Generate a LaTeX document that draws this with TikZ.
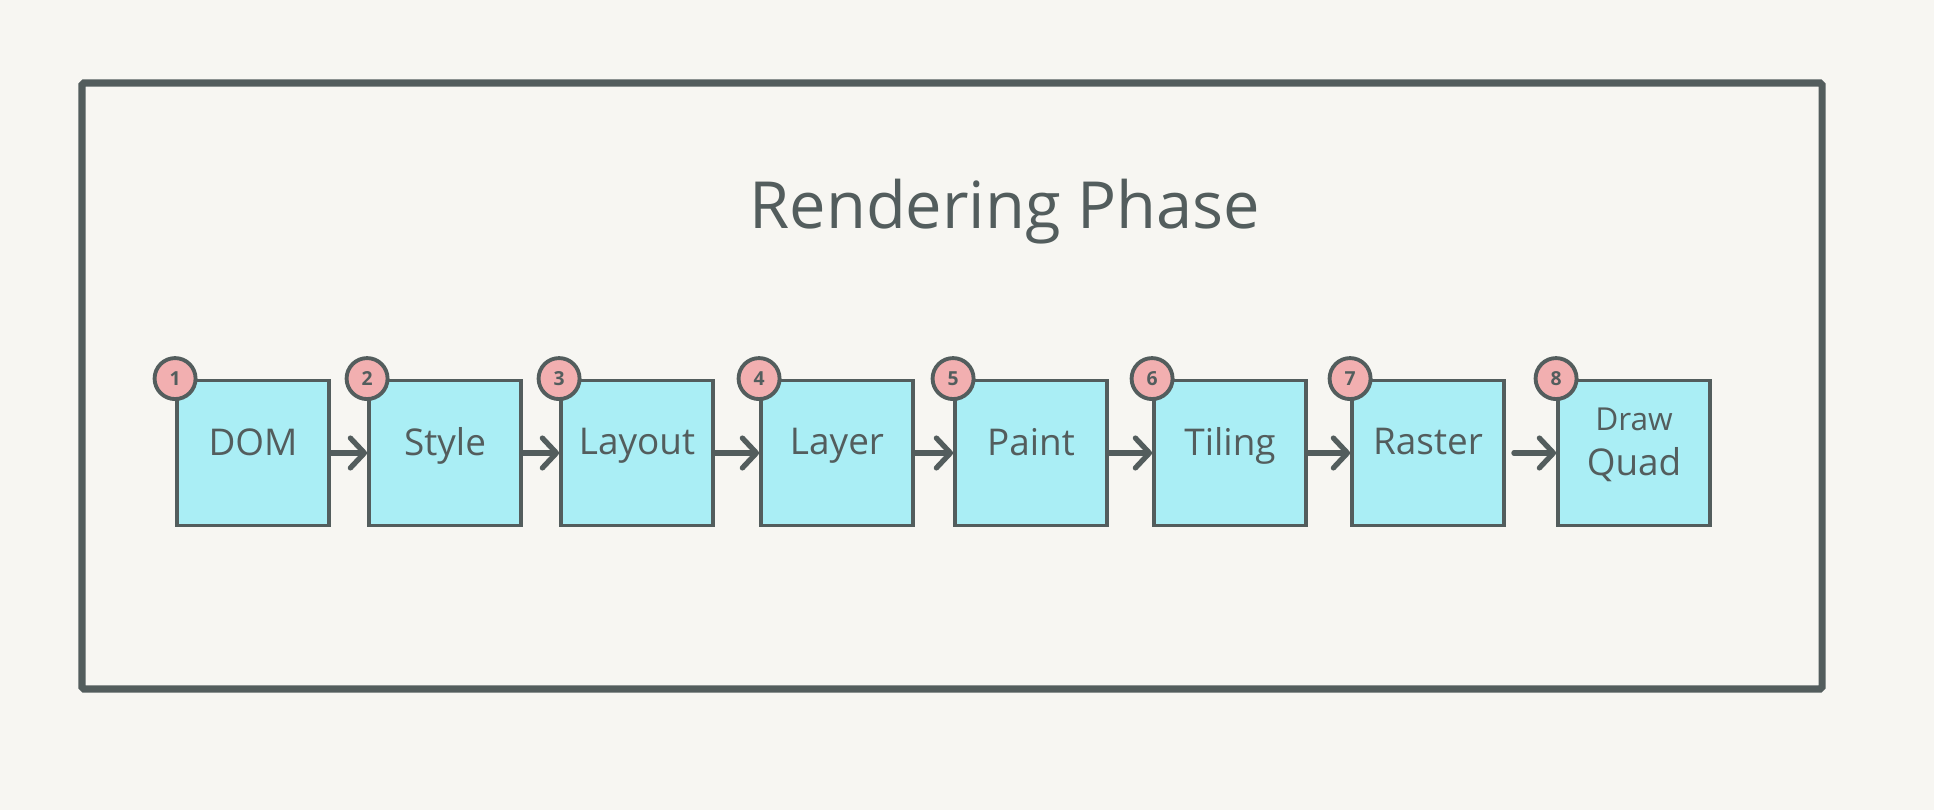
\documentclass[tikz,border=0pt]{standalone}
\usepackage{fontspec}
\setmainfont{Open Sans}
\usetikzlibrary{arrows.meta}

\definecolor{ink}{HTML}{535D5D}
\definecolor{paper}{HTML}{F7F6F2}
\definecolor{boxfill}{HTML}{AAEEF5}
\definecolor{badgefill}{HTML}{F2AFB0}

\tikzset{
  stage/.style={draw=ink, line width=2.2pt, fill=boxfill, minimum width=3.04cm,
    minimum height=2.9cm, inner sep=0pt, align=center, text=ink, text depth=0.45cm,
    font=\fontsize{21}{26}\selectfont},
  badge/.style={circle, draw=ink, line width=2.2pt, fill=badgefill, minimum size=0.82cm,
    inner sep=0pt, text=ink, font=\fontsize{11}{12}\selectfont\bfseries},
  flow/.style={draw=ink, line width=3pt, line cap=round,
    -{Straight Barb[length=8pt,width=17pt,round]}},
}

\begin{document}
\begin{tikzpicture}[x=0.02cm,y=-0.02cm]
            \fill[paper] (0,0) rectangle (1934,810);
            \useasboundingbox (0,0) rectangle (1934,810);
            \draw[ink, line width=4pt, rounded corners=1pt] (82,83) rectangle (1822,689);
            \node[text=ink, font=\fontsize{37}{44}\selectfont] (title) at (1005,212) {Rendering Phase};
            \node[stage] (dom) at (253,453) {DOM};
            \node[stage] (style) at (445,453) {Style};
            \node[stage] (layout) at (637,453) {Layout};
            \node[stage] (layer) at (837,453) {Layer};
            \node[stage] (paint) at (1031,453) {Paint};
            \node[stage] (tiling) at (1230,453) {Tiling};
            \node[stage] (raster) at (1428,453) {Raster};
            \node[stage] (quad) at (1634,453) {{\fontsize{18}{24}\selectfont Draw}\\Quad};
            \node[badge] (n1) at (dom.north west) {1};
            \node[badge] (n2) at (style.north west) {2};
            \node[badge] (n3) at (layout.north west) {3};
            \node[badge] (n4) at (layer.north west) {4};
            \node[badge] (n5) at (paint.north west) {5};
            \node[badge] (n6) at (tiling.north west) {6};
            \node[badge] (n7) at (raster.north west) {7};
            \node[badge] (n8) at (quad.north west) {8};
            \draw[flow] (dom) to (style);
            \draw[flow] (style) to (layout);
            \draw[flow] (layout) to (layer);
            \draw[flow] (layer) to (paint);
            \draw[flow] (paint) to (tiling);
            \draw[flow] (tiling) to (raster);
            \draw[flow, shorten <=0.16cm] (raster) to (quad);
        \end{tikzpicture}
\end{document}
